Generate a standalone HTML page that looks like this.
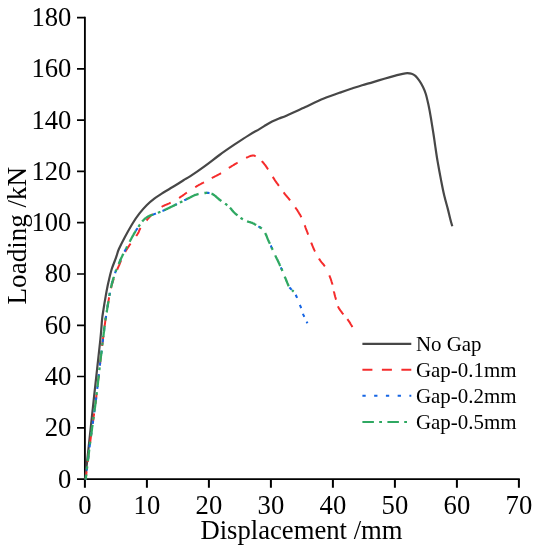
<!DOCTYPE html>
<html><head><meta charset="utf-8"><title>Loading vs Displacement</title>
<style>html,body{margin:0;padding:0;background:#fff}svg{display:block}text{font-family:"Liberation Serif","DejaVu Serif",serif;fill:#000}</style></head>
<body>
<svg width="542" height="550" viewBox="0 0 542 550">
<rect width="542" height="550" fill="#fff"/>
<g stroke="#000" stroke-width="1.85" fill="none" stroke-linecap="butt">
<path d="M84.9,16.8V480.0"/>
<path d="M84.0,479.1H519.8"/>
</g>
<path stroke="#000" stroke-width="1.7" fill="none" d="M77,479.1H84.9M77,427.8H84.9M77,376.5H84.9M77,325.3H84.9M77,274.0H84.9M77,222.7H84.9M77,171.4H84.9M77,120.2H84.9M77,68.9H84.9M77,17.6H84.9"/>
<path stroke="#000" stroke-width="2" fill="none" d="M84.9,479.1V487.7M146.9,479.1V487.7M208.9,479.1V487.7M270.9,479.1V487.7M332.9,479.1V487.7M394.9,479.1V487.7M456.9,479.1V487.7M518.9,479.1V487.7"/>
<text transform="translate(71.4,487.5) scale(0.952,1)" font-size="28.0" text-anchor="end">0</text>
<text transform="translate(71.4,436.2) scale(0.952,1)" font-size="28.0" text-anchor="end">20</text>
<text transform="translate(71.4,384.9) scale(0.952,1)" font-size="28.0" text-anchor="end">40</text>
<text transform="translate(71.4,333.7) scale(0.952,1)" font-size="28.0" text-anchor="end">60</text>
<text transform="translate(71.4,282.4) scale(0.952,1)" font-size="28.0" text-anchor="end">80</text>
<text transform="translate(71.4,231.1) scale(0.952,1)" font-size="28.0" text-anchor="end">100</text>
<text transform="translate(71.4,179.8) scale(0.952,1)" font-size="28.0" text-anchor="end">120</text>
<text transform="translate(71.4,128.6) scale(0.952,1)" font-size="28.0" text-anchor="end">140</text>
<text transform="translate(71.4,77.3) scale(0.952,1)" font-size="28.0" text-anchor="end">160</text>
<text transform="translate(71.4,26.0) scale(0.952,1)" font-size="28.0" text-anchor="end">180</text>
<text transform="translate(84.9,513.6) scale(0.952,1)" font-size="28.0" text-anchor="middle">0</text>
<text transform="translate(146.9,513.6) scale(0.952,1)" font-size="28.0" text-anchor="middle">10</text>
<text transform="translate(208.9,513.6) scale(0.952,1)" font-size="28.0" text-anchor="middle">20</text>
<text transform="translate(270.9,513.6) scale(0.952,1)" font-size="28.0" text-anchor="middle">30</text>
<text transform="translate(332.9,513.6) scale(0.952,1)" font-size="28.0" text-anchor="middle">40</text>
<text transform="translate(394.9,513.6) scale(0.952,1)" font-size="28.0" text-anchor="middle">50</text>
<text transform="translate(456.9,513.6) scale(0.952,1)" font-size="28.0" text-anchor="middle">60</text>
<text transform="translate(518.9,513.6) scale(0.952,1)" font-size="28.0" text-anchor="middle">70</text>
<text transform="translate(301.5,539.0) scale(0.956,1)" font-size="27.9" text-anchor="middle">Displacement /mm</text>
<text transform="translate(25.9,235.7) rotate(-90) scale(0.980,1)" font-size="27.6" text-anchor="middle">Loading /kN</text>
<g fill="none" stroke-width="2.1" stroke-linejoin="round">
<path stroke="#474747" stroke-width="2.2" d="M85.2,479.4C86.6,466.2 91.2,423.2 93.7,400.0C96.2,376.8 98.9,353.3 100.3,340.0C101.7,326.7 101.5,325.1 102.0,320.0C102.5,314.9 102.9,313.4 103.5,309.4C104.1,305.4 104.9,300.5 105.7,296.1C106.5,291.7 107.3,287.2 108.3,282.8C109.3,278.4 110.3,273.7 111.6,269.5C112.9,265.3 114.8,261.1 116.0,257.7C117.2,254.3 117.4,252.4 118.9,249.0C120.4,245.6 122.6,241.3 124.8,237.2C127.0,233.1 129.7,228.2 132.1,224.2C134.5,220.2 137.0,216.6 139.5,213.4C142.0,210.2 144.4,207.5 146.9,205.0C149.4,202.5 151.8,200.5 154.3,198.6C156.8,196.7 159.2,195.2 161.7,193.6C164.1,192.0 166.6,190.7 169.0,189.2C171.4,187.7 173.9,186.3 176.4,184.8C178.9,183.3 181.5,181.4 183.8,180.0C186.1,178.6 186.5,178.7 190.0,176.4C193.5,174.1 199.9,169.7 204.8,166.1C209.7,162.5 214.6,158.6 219.5,155.0C224.4,151.4 229.4,148.0 234.3,144.7C239.2,141.4 244.8,137.7 249.0,135.1C253.2,132.5 256.6,130.8 259.4,129.1C262.2,127.4 263.9,126.3 266.0,125.0C268.1,123.7 269.9,122.6 272.1,121.5C274.3,120.4 276.5,119.5 279.0,118.5C281.5,117.5 282.5,117.3 286.9,115.4C291.3,113.5 299.2,109.7 305.4,106.9C311.5,104.1 318.0,101.0 323.8,98.6C329.6,96.2 335.4,94.2 340.0,92.6C344.6,90.9 347.4,89.9 351.1,88.7C354.8,87.5 358.4,86.3 362.1,85.2C365.8,84.1 369.5,83.2 373.2,82.1C376.9,81.0 380.6,79.8 384.3,78.7C388.0,77.6 392.3,76.4 395.4,75.6C398.5,74.8 400.7,74.2 402.7,73.8C404.7,73.4 405.8,73.2 407.3,73.2C408.8,73.2 410.2,73.2 411.6,73.7C413.0,74.2 414.1,74.8 415.4,75.9C416.7,77.1 418.0,78.8 419.3,80.6C420.6,82.4 421.9,84.8 423.0,87.0C424.1,89.2 424.9,91.1 425.8,94.0C426.7,96.9 427.5,100.5 428.4,104.6C429.3,108.7 430.2,113.7 431.0,118.5C431.8,123.3 432.7,129.1 433.4,133.5C434.1,137.9 434.4,140.4 435.1,145.1C435.8,149.8 436.6,155.7 437.6,161.4C438.6,167.1 439.8,173.7 440.9,179.4C442.0,185.1 443.1,190.9 444.3,195.8C445.5,200.7 446.8,205.1 447.8,208.9C448.8,212.7 449.4,215.8 450.2,218.7C450.9,221.6 451.9,224.9 452.3,226.2"/>
<path stroke="#F52C2C" stroke-width="2" stroke-dasharray="8.11 9.50 10.00 9.50 10.00 9.50 10.00 9.50 10.00 9.50 10.00 9.50 10.00 9.50 10.00 9.50 10.00 9.50 10.00 9.50 10.00 9.50 10.00 9.50 10.00 9.50 9.20 9.52 9.12 11.38 10.00 9.57 9.57 9.91 10.05 8.91 10.38 9.43 10.33 9.77 10.24 7.72 10.49 8.79 10.89 8.01 10.36 8.82 11.44 8.81 9.86 8.66 9.55 8.30 9.77 10.08 9.72 6.68 8.81 6.94 9.76 6.12 9.56 50.00" d="M85.7,479.4L85.7,479.0L85.8,478.5L85.9,478.1L85.9,477.6L86.0,477.0L86.0,476.5L86.1,475.9L86.2,475.3L86.3,474.6L86.3,474.0L86.4,473.3L86.5,472.6L86.6,471.9L86.7,471.1L86.8,470.4L86.8,469.6L86.9,468.8L87.0,468.0L87.1,467.2L87.2,466.3L87.3,465.5L87.4,464.6L87.5,463.7L87.6,462.9L87.7,462.0L87.8,461.1L88.0,460.1L88.1,459.2L88.2,458.3L88.3,457.4L88.4,456.4L88.5,455.5L88.6,454.5L88.7,453.6L88.9,452.7L89.0,451.7L89.1,450.8L89.2,449.8L89.3,448.9L89.4,448.0L89.6,447.0L89.7,446.1L89.8,445.2L89.9,444.3L90.0,443.6L90.1,442.9L90.2,442.1L90.3,441.4L90.4,440.6L90.5,439.9L90.6,439.1L90.7,438.3L90.8,437.5L90.9,436.8L91.0,436.0L91.1,435.2L91.2,434.4L91.3,433.6L91.4,432.8L91.6,431.9L91.7,431.1L91.8,430.3L91.9,429.5L92.0,428.7L92.1,427.8L92.2,427.0L92.4,426.2L92.5,425.3L92.6,424.5L92.7,423.7L92.8,422.8L92.9,422.0L93.1,421.1L93.2,420.3L93.3,419.5L93.4,418.6L93.5,417.8L93.6,417.0L93.7,416.1L93.9,415.3L94.0,414.5L94.1,413.6L94.2,412.8L94.3,412.0L94.4,411.2L94.5,410.4L94.6,409.6L94.7,408.8L94.9,408.0L95.0,407.2L95.1,406.4L95.2,405.6L95.3,404.9L95.4,404.1L95.5,403.3L95.6,402.6L95.7,401.8L95.8,401.1L95.9,400.4L96.0,399.6L96.1,398.7L96.2,397.8L96.3,396.9L96.4,396.0L96.5,395.1L96.6,394.3L96.7,393.4L96.8,392.5L96.9,391.7L97.0,390.8L97.1,390.0L97.2,389.1L97.3,388.3L97.4,387.5L97.5,386.6L97.6,385.8L97.7,385.0L97.8,384.2L97.9,383.4L98.0,382.6L98.0,381.8L98.1,381.0L98.2,380.2L98.3,379.4L98.4,378.6L98.5,377.8L98.6,377.0L98.7,376.2L98.7,375.5L98.8,374.7L98.9,373.9L99.0,373.2L99.1,372.4L99.2,371.7L99.2,370.9L99.3,370.2L99.4,369.4L99.5,368.7L99.6,367.9L99.7,367.2L99.7,366.5L99.8,365.7L99.9,365.0L100.0,364.3L100.1,363.4L100.2,362.5L100.3,361.6L100.4,360.7L100.5,359.8L100.6,358.9L100.7,358.0L100.8,357.2L100.9,356.3L101.1,355.4L101.2,354.5L101.3,353.7L101.4,352.8L101.5,352.0L101.6,351.1L101.7,350.3L101.8,349.5L101.9,348.7L102.0,347.8L102.1,347.0L102.2,346.2L102.2,345.5L102.3,344.7L102.4,343.9L102.5,343.2L102.6,342.4L102.7,341.7L102.8,341.0L102.9,340.3L103.0,339.6L103.0,338.9L103.1,338.2L103.2,337.6L103.3,336.9L103.4,336.3L103.5,335.4L103.6,334.3L103.7,333.3L103.8,332.4L104.0,331.5L104.1,330.6L104.2,329.8L104.2,329.0L104.3,328.3L104.4,327.6L104.5,326.9L104.6,326.2L104.7,325.5L104.8,324.8L104.9,324.1L105.0,323.4L105.1,322.6L105.2,321.8L105.3,321.0L105.4,320.2L105.5,319.4L105.6,318.7L105.8,317.9L105.9,317.1L106.0,316.2L106.1,315.4L106.3,314.6L106.4,313.8L106.5,313.0L106.7,312.1L106.8,311.3L106.9,310.5L107.1,309.7L107.2,308.9L107.3,308.1L107.4,307.3L107.6,306.5L107.7,305.7L107.8,305.0L108.0,304.2L108.1,303.3L108.3,302.5L108.4,301.7L108.5,300.8L108.7,300.0L108.8,299.2L108.9,298.4L109.1,297.6L109.2,296.8L109.3,296.0L109.5,295.2L109.6,294.4L109.8,293.7L109.9,292.9L110.1,292.1L110.2,291.4L110.4,290.6L110.6,289.8L110.8,289.0L111.0,288.2L111.2,287.4L111.4,286.6L111.6,285.8L111.8,285.0L112.0,284.2L112.3,283.4L112.5,282.7L112.7,281.9L112.9,281.1L113.2,280.4L113.4,279.6L113.7,278.9L113.9,278.1L114.2,277.4L114.4,276.6L114.7,275.8L115.0,275.0L115.3,274.3L115.6,273.5L115.9,272.7L116.2,272.0L116.5,271.2L116.9,270.5L117.2,269.7L117.5,269.0L117.8,268.2L118.1,267.5L118.4,266.8L118.7,266.1L119.1,265.4L119.4,264.6L119.7,263.8L120.0,263.0L120.3,262.3L120.6,261.5L120.9,260.8L121.2,260.0L121.6,259.3L121.9,258.6L122.2,257.8L122.5,257.1L122.9,256.4L123.2,255.6L123.6,254.9L124.0,254.1L124.4,253.4L124.8,252.7L125.2,252.0L125.6,251.3L126.0,250.6L126.4,249.9L126.9,249.2L127.3,248.5L127.8,247.8L128.2,247.1L128.7,246.4L129.1,245.7L129.6,245.0L130.1,244.3L130.5,243.7L131.0,243.0L131.5,242.3L132.0,241.6L132.5,240.9L133.1,240.2L133.6,239.5L134.1,238.8L134.6,238.1L135.1,237.4L135.6,236.7L136.1,236.1L136.5,235.5L137.0,234.9L137.4,234.3L137.7,233.8L138.3,232.9L138.7,232.1L138.9,231.4L139.2,230.8L139.4,230.2L139.7,229.5L140.1,228.7L140.6,228.0L141.0,227.4L141.4,226.8L141.9,226.2L142.4,225.5L143.0,224.8L143.5,224.1L144.1,223.4L144.6,222.7L145.2,222.1L145.7,221.4L146.2,220.8L146.7,220.3L147.2,219.6L147.9,218.9L148.4,218.2L149.0,217.6L149.5,217.0L150.1,216.5L150.6,215.9L151.2,215.3L151.8,214.7L152.4,214.2L153.0,213.6L153.6,213.0L154.2,212.4L154.8,211.9L155.4,211.3L156.1,210.8L156.7,210.2L157.3,209.7L158.0,209.2L158.7,208.7L159.3,208.3L160.0,207.8L160.7,207.4L161.4,207.0L162.2,206.5L162.9,206.1L163.6,205.8L164.3,205.5L165.0,205.2L165.7,204.9L166.4,204.6L167.2,204.3L168.0,203.9L168.8,203.6L169.6,203.2L170.3,202.8L171.0,202.5L171.7,202.1L172.4,201.7L173.1,201.3L173.9,200.9L174.6,200.5L175.3,200.1L176.1,199.7L176.8,199.2L177.5,198.8L178.2,198.4L178.9,198.0L179.6,197.6L180.3,197.1L181.0,196.7L181.6,196.2L182.3,195.8L182.9,195.4L183.5,194.9L184.2,194.5L184.8,194.0L185.5,193.5L186.2,193.0L186.9,192.6L187.5,192.2L188.2,191.7L188.9,191.3L189.6,190.8L190.3,190.4L191.0,189.9L191.7,189.4L192.4,189.0L193.1,188.5L193.8,188.1L194.5,187.6L195.1,187.2L195.8,186.8L196.5,186.4L197.3,185.9L198.0,185.5L198.7,185.1L199.4,184.7L200.1,184.4L200.8,184.0L201.5,183.6L202.2,183.2L202.9,182.9L203.6,182.5L204.4,182.1L205.1,181.7L205.8,181.3L206.4,181.0L207.1,180.6L207.8,180.2L208.5,179.8L209.2,179.4L209.9,179.1L210.6,178.7L211.4,178.3L212.1,177.9L212.8,177.5L213.5,177.2L214.2,176.8L214.9,176.4L215.6,176.1L216.4,175.7L217.1,175.3L217.8,175.0L218.5,174.6L219.3,174.2L220.0,173.8L220.7,173.4L221.4,173.0L222.0,172.6L222.7,172.1L223.4,171.7L224.1,171.2L224.7,170.8L225.4,170.3L226.0,169.9L226.7,169.4L227.4,168.9L228.1,168.5L228.7,168.0L229.4,167.6L230.1,167.2L230.8,166.8L231.4,166.3L232.1,165.9L232.8,165.5L233.5,165.1L234.2,164.6L234.9,164.2L235.6,163.8L236.3,163.4L237.0,163.0L237.7,162.6L238.4,162.2L239.1,161.8L239.8,161.3L240.6,160.9L241.3,160.5L242.0,160.1L242.8,159.6L243.5,159.2L244.2,158.8L244.9,158.5L245.6,158.1L246.2,157.8L246.8,157.5L247.8,157.1L248.7,156.7L249.5,156.3L250.3,156.1L251.1,155.8L251.8,155.7L252.4,155.5L253.2,155.4L254.0,155.5L254.7,155.8L255.7,156.5L256.2,156.8L256.7,157.2L257.3,157.6L258.0,158.1L258.6,158.5L259.3,159.1L260.0,159.6L260.7,160.2L261.4,160.8L262.0,161.4L262.6,162.0L263.1,162.5L263.6,163.1L264.0,163.7L264.5,164.3L265.0,164.9L265.5,165.5L265.9,166.2L266.4,166.9L266.9,167.6L267.4,168.3L267.9,169.1L268.4,169.8L268.8,170.4L269.2,171.0L269.6,171.7L270.0,172.3L270.4,173.0L270.8,173.7L271.3,174.3L271.7,175.1L272.1,175.8L272.5,176.5L273.0,177.2L273.4,177.9L273.9,178.6L274.4,179.4L274.8,180.1L275.3,180.8L275.7,181.4L276.2,182.1L276.7,182.8L277.2,183.5L277.7,184.2L278.2,184.9L278.7,185.6L279.2,186.3L279.7,187.1L280.2,187.8L280.7,188.5L281.2,189.1L281.7,189.8L282.2,190.4L282.7,191.1L283.1,191.7L283.5,192.2L283.9,192.7L284.4,193.5L285.1,194.3L285.6,195.0L286.2,195.6L286.6,196.2L287.1,196.7L287.5,197.2L288.0,197.7L288.5,198.3L289.0,199.0L289.5,199.6L289.9,200.2L290.4,200.8L290.9,201.4L291.4,202.0L291.9,202.7L292.4,203.3L293.0,204.0L293.5,204.7L294.0,205.5L294.5,206.2L295.0,206.9L295.4,207.5L295.8,208.1L296.3,208.8L296.7,209.4L297.2,210.1L297.6,210.8L298.0,211.5L298.5,212.2L298.9,212.9L299.3,213.6L299.8,214.3L300.2,215.1L300.6,215.8L301.0,216.6L301.4,217.3L301.7,218.0L302.0,218.7L302.3,219.4L302.6,220.1L302.9,220.9L303.2,221.6L303.5,222.3L303.8,223.1L304.1,223.8L304.4,224.6L304.7,225.3L305.0,226.1L305.3,226.9L305.6,227.8L305.9,228.6L306.2,229.5L306.5,230.2L306.8,230.9L307.1,231.7L307.4,232.4L307.6,233.2L307.9,233.9L308.2,234.7L308.5,235.5L308.8,236.3L309.1,237.1L309.4,237.9L309.7,238.7L310.0,239.6L310.3,240.4L310.6,241.2L310.9,241.9L311.2,242.7L311.5,243.5L311.8,244.2L312.1,245.0L312.4,245.7L312.7,246.4L313.0,247.1L313.4,248.0L313.7,248.8L314.1,249.6L314.5,250.4L314.9,251.2L315.3,251.9L315.7,252.7L316.0,253.4L316.4,254.1L316.8,254.8L317.2,255.5L317.5,256.2L317.9,256.8L318.3,257.5L318.7,258.1L319.0,258.7L319.5,259.4L320.0,260.2L320.5,260.9L321.1,261.6L321.6,262.3L322.1,262.9L322.6,263.5L323.1,264.0L323.6,264.6L324.1,265.3L324.5,265.9L325.0,266.6L325.4,267.3L325.8,268.0L326.2,268.7L326.6,269.5L327.0,270.2L327.4,271.0L327.7,271.7L328.1,272.5L328.4,273.2L328.8,274.0L329.1,274.8L329.4,275.5L329.7,276.3L330.0,277.1L330.3,277.9L330.6,278.7L330.9,279.5L331.1,280.2L331.4,281.0L331.6,281.8L331.9,282.6L332.1,283.3L332.3,284.0L332.5,284.8L332.7,285.7L332.9,286.5L333.1,287.3L333.2,288.1L333.3,288.9L333.5,289.7L333.6,290.4L333.8,291.3L334.0,292.1L334.2,292.8L334.4,293.6L334.6,294.4L334.8,295.2L335.0,296.0L335.2,296.8L335.5,297.6L335.7,298.4L335.9,299.2L336.1,299.9L336.3,300.7L336.5,301.5L336.7,302.3L336.9,303.0L337.1,303.8L337.3,304.5L337.5,305.3L337.8,306.1L338.1,306.8L338.5,307.5L338.9,308.2L339.3,308.9L339.8,309.6L340.3,310.3L340.8,311.0L341.3,311.7L341.8,312.4L342.3,313.1L342.8,313.7L343.3,314.3L343.8,315.0L344.3,315.6L344.8,316.2L345.3,316.8L345.8,317.3L346.3,317.9L346.8,318.4L347.4,319.1L347.9,319.8L348.3,320.4L348.8,321.1L349.3,321.8L349.8,322.6L350.3,323.4L350.7,324.2L351.2,325.0L351.7,325.7L352.1,326.4L352.4,326.9L352.7,327.4L352.8,327.6"/>
<path stroke="#1565E4" stroke-dasharray="0.53 8.45 3.30 8.45 3.30 8.45 3.30 8.45 3.30 8.45 3.30 8.45 3.30 8.45 3.30 8.45 3.30 8.45 3.30 8.45 3.30 8.45 3.30 8.45 3.30 8.45 3.30 8.45 3.30 8.45 3.30 8.45 3.30 8.45 3.30 8.45 3.30 8.45 3.30 8.45 3.30 20.37 3.30 20.95 3.30 6.99 3.30 9.49 3.30 8.21 3.30 20.19 3.30 59.95 3.30 20.16 3.30 20.87 3.30 18.48 3.30 6.53 3.30 7.69 3.30 6.12 3.30 5.29 1.87 50.00" d="M85.7,479.4L85.7,479.0L85.8,478.5L85.9,478.1L85.9,477.6L86.0,477.0L86.0,476.5L86.1,475.9L86.2,475.3L86.3,474.6L86.3,474.0L86.4,473.3L86.5,472.6L86.6,471.9L86.7,471.1L86.8,470.4L86.8,469.6L86.9,468.8L87.0,468.0L87.1,467.2L87.2,466.3L87.3,465.5L87.4,464.6L87.5,463.7L87.6,462.9L87.7,462.0L87.8,461.1L88.0,460.1L88.1,459.2L88.2,458.3L88.3,457.4L88.4,456.4L88.5,455.5L88.6,454.5L88.7,453.6L88.9,452.7L89.0,451.7L89.1,450.8L89.2,449.8L89.3,448.9L89.4,448.0L89.6,447.0L89.7,446.1L89.8,445.2L89.9,444.3L90.0,443.6L90.1,442.9L90.2,442.1L90.3,441.4L90.4,440.6L90.5,439.9L90.6,439.1L90.7,438.3L90.8,437.5L90.9,436.8L91.0,436.0L91.1,435.2L91.2,434.4L91.3,433.6L91.4,432.8L91.6,431.9L91.7,431.1L91.8,430.3L91.9,429.5L92.0,428.7L92.1,427.8L92.2,427.0L92.4,426.2L92.5,425.3L92.6,424.5L92.7,423.7L92.8,422.8L92.9,422.0L93.1,421.1L93.2,420.3L93.3,419.5L93.4,418.6L93.5,417.8L93.6,417.0L93.7,416.1L93.9,415.3L94.0,414.5L94.1,413.6L94.2,412.8L94.3,412.0L94.4,411.2L94.5,410.4L94.6,409.6L94.7,408.8L94.9,408.0L95.0,407.2L95.1,406.4L95.2,405.6L95.3,404.9L95.4,404.1L95.5,403.3L95.6,402.6L95.7,401.8L95.8,401.1L95.9,400.4L96.0,399.6L96.1,398.7L96.2,397.8L96.3,396.9L96.4,396.0L96.5,395.1L96.6,394.3L96.7,393.4L96.8,392.5L96.9,391.7L97.0,390.8L97.1,390.0L97.2,389.1L97.3,388.3L97.4,387.5L97.5,386.6L97.6,385.8L97.7,385.0L97.8,384.2L97.9,383.4L98.0,382.6L98.0,381.8L98.1,381.0L98.2,380.2L98.3,379.4L98.4,378.6L98.5,377.8L98.6,377.0L98.7,376.2L98.7,375.5L98.8,374.7L98.9,373.9L99.0,373.2L99.1,372.4L99.2,371.7L99.2,370.9L99.3,370.2L99.4,369.4L99.5,368.7L99.6,367.9L99.7,367.2L99.7,366.5L99.8,365.7L99.9,365.0L100.0,364.3L100.1,363.4L100.2,362.5L100.3,361.6L100.4,360.7L100.5,359.8L100.6,358.9L100.7,358.0L100.8,357.2L100.9,356.3L101.1,355.4L101.2,354.5L101.3,353.7L101.4,352.8L101.5,352.0L101.6,351.1L101.7,350.3L101.8,349.5L101.9,348.7L102.0,347.8L102.1,347.0L102.2,346.2L102.2,345.5L102.3,344.7L102.4,343.9L102.5,343.2L102.6,342.4L102.7,341.7L102.8,341.0L102.9,340.3L103.0,339.6L103.0,338.9L103.1,338.2L103.2,337.6L103.3,336.9L103.4,336.3L103.5,335.4L103.6,334.3L103.7,333.3L103.8,332.4L104.0,331.5L104.1,330.6L104.2,329.8L104.2,329.0L104.3,328.3L104.4,327.6L104.5,326.9L104.6,326.2L104.7,325.5L104.8,324.8L104.9,324.1L105.0,323.4L105.1,322.6L105.2,321.8L105.3,321.0L105.4,320.2L105.5,319.4L105.6,318.7L105.8,317.9L105.9,317.1L106.0,316.3L106.1,315.4L106.3,314.6L106.4,313.8L106.5,313.0L106.7,312.2L106.8,311.4L106.9,310.5L107.1,309.7L107.2,308.9L107.3,308.1L107.4,307.3L107.6,306.5L107.7,305.8L107.8,305.0L108.0,304.2L108.1,303.3L108.2,302.5L108.4,301.7L108.5,300.9L108.6,300.1L108.8,299.2L108.9,298.4L109.0,297.6L109.2,296.8L109.3,296.0L109.4,295.3L109.6,294.5L109.7,293.7L109.9,292.9L110.0,292.1L110.2,291.3L110.3,290.6L110.5,289.8L110.7,289.0L110.9,288.2L111.0,287.4L111.2,286.5L111.4,285.7L111.6,284.9L111.8,284.1L112.0,283.3L112.2,282.5L112.4,281.7L112.6,281.0L112.9,280.2L113.1,279.4L113.3,278.6L113.5,277.9L113.8,277.1L114.0,276.4L114.2,275.6L114.5,274.8L114.8,274.0L115.1,273.2L115.3,272.4L115.6,271.6L115.9,270.8L116.2,270.1L116.5,269.3L116.8,268.5L117.1,267.8L117.4,267.1L117.7,266.4L118.0,265.7L118.3,265.0L118.6,264.3L118.9,263.6L119.2,262.7L119.6,261.9L119.9,261.2L120.2,260.5L120.5,259.8L120.8,259.1L121.1,258.4L121.4,257.7L121.8,257.0L122.1,256.3L122.5,255.5L122.8,254.8L123.2,254.1L123.5,253.5L123.8,252.8L124.2,252.1L124.6,251.4L124.9,250.7L125.3,250.0L125.7,249.2L126.1,248.5L126.5,247.8L126.9,247.0L127.3,246.2L127.7,245.5L128.0,244.8L128.4,244.1L128.8,243.4L129.1,242.7L129.5,242.0L129.9,241.2L130.3,240.5L130.7,239.7L131.1,239.0L131.5,238.2L131.9,237.5L132.3,236.8L132.7,236.1L133.1,235.4L133.5,234.7L133.8,234.1L134.2,233.4L134.7,232.6L135.2,231.8L135.6,231.1L136.1,230.3L136.5,229.6L137.0,228.9L137.4,228.3L137.8,227.6L138.3,227.0L138.7,226.4L139.1,225.8L139.5,225.2L140.1,224.4L140.6,223.7L141.1,223.0L141.6,222.3L142.1,221.7L142.6,221.1L143.1,220.5L143.6,220.0L144.1,219.5L144.7,218.9L145.4,218.3L146.0,217.9L146.7,217.4L147.3,217.0L148.0,216.6L148.7,216.2L149.4,215.9L150.1,215.6L150.8,215.3L151.6,215.0L152.4,214.8L153.3,214.5L154.3,214.1L154.9,213.9L155.6,213.6L156.3,213.3L157.0,213.1L157.8,212.8L158.6,212.5L159.3,212.2L160.2,211.9L161.0,211.6L161.8,211.2L162.7,210.9L163.5,210.5L164.2,210.2L164.9,209.9L165.6,209.6L166.3,209.2L167.1,208.9L167.8,208.5L168.6,208.2L169.3,207.8L170.1,207.4L170.8,207.0L171.6,206.7L172.4,206.3L173.1,205.9L173.9,205.6L174.6,205.2L175.3,204.8L176.1,204.5L176.8,204.1L177.6,203.7L178.3,203.3L179.1,203.0L179.8,202.6L180.6,202.2L181.3,201.8L182.1,201.5L182.8,201.1L183.5,200.7L184.2,200.4L184.9,200.0L185.6,199.7L186.4,199.3L187.2,198.9L188.0,198.5L188.8,198.1L189.6,197.7L190.4,197.3L191.1,196.9L191.9,196.5L192.6,196.1L193.3,195.8L193.9,195.5L194.6,195.2L195.4,194.9L196.4,194.6L197.3,194.3L198.1,194.1L198.9,193.9L199.6,193.8L200.3,193.6L201.0,193.5L202.0,193.3L202.8,193.2L203.6,193.1L204.5,193.0L205.3,193.0L206.1,192.9L206.9,192.9L207.8,192.9L208.6,192.9L209.4,193.1L210.2,193.2L211.0,193.5L211.7,193.7L212.5,194.1L213.2,194.5L213.9,194.9L214.5,195.4L215.2,195.9L215.8,196.5L216.5,197.0L217.1,197.6L217.7,198.1L218.3,198.6L218.9,199.2L219.6,199.7L220.3,200.3L221.0,200.8L221.6,201.3L222.3,201.7L223.0,202.2L223.8,202.7L224.5,203.2L225.2,203.7L225.9,204.1L226.5,204.6L227.2,205.2L227.9,205.7L228.5,206.3L229.0,206.8L229.6,207.4L230.1,207.9L230.7,208.5L231.2,209.1L231.7,209.7L232.3,210.4L232.8,211.0L233.3,211.6L233.9,212.2L234.4,212.7L235.0,213.3L235.6,213.8L236.2,214.3L236.9,214.9L237.5,215.4L238.1,215.9L238.7,216.4L239.3,216.9L239.9,217.4L240.6,217.9L241.3,218.3L242.0,218.8L242.7,219.2L243.4,219.6L244.2,220.0L245.1,220.4L245.9,220.7L246.7,221.1L247.4,221.4L248.1,221.7L249.0,222.0L249.8,222.2L250.6,222.4L251.3,222.6L252.1,222.8L252.8,223.2L253.5,223.5L254.3,223.9L255.1,224.4L255.8,224.8L256.5,225.2L257.3,225.6L258.1,226.1L258.8,226.6L259.5,227.0L260.1,227.4L260.9,227.9L261.6,228.3L262.2,228.7L262.8,229.4L263.2,230.0L263.7,230.6L264.2,231.4L264.6,232.1L265.1,232.9L265.5,233.7L265.9,234.5L266.2,235.3L266.6,236.1L266.9,236.9L267.2,237.7L267.5,238.4L267.8,239.2L268.1,239.9L268.4,240.5L268.6,241.1L268.9,241.7L269.4,242.6L269.9,243.8L270.2,244.3L270.4,244.9L270.7,245.6L271.1,246.3L271.4,247.0L271.7,247.8L272.1,248.6L272.5,249.4L272.9,250.2L273.2,251.0L273.6,251.9L274.0,252.7L274.4,253.5L274.7,254.2L275.1,255.0L275.4,255.7L275.8,256.5L276.1,257.2L276.5,258.0L276.8,258.7L277.2,259.4L277.5,260.1L277.9,260.8L278.2,261.6L278.6,262.3L278.9,263.0L279.3,263.7L279.6,264.5L279.9,265.2L280.3,266.0L280.6,266.7L280.9,267.4L281.2,268.2L281.6,269.0L281.9,269.7L282.2,270.5L282.5,271.3L282.9,272.1L283.2,272.9L283.5,273.7L283.8,274.4L284.1,275.2L284.4,275.9L284.7,276.6L285.0,277.3L285.3,278.0L285.7,278.9L286.0,279.7L286.3,280.5L286.6,281.3L287.0,282.1L287.3,282.9L287.6,283.6L287.9,284.3L288.2,285.0L288.5,285.7L288.8,286.3L289.2,286.9L289.7,287.7L290.3,288.3L290.9,289.0L291.5,289.5L292.1,290.0L292.7,290.6L293.3,291.1L293.8,291.6L294.3,292.3L294.7,292.9L295.1,293.6L295.4,294.2L295.8,294.9L296.1,295.8L296.6,296.8L296.9,297.4L297.1,298.0L297.4,298.7L297.7,299.5L298.1,300.3L298.4,301.1L298.7,301.9L299.0,302.7L299.4,303.5L299.7,304.3L300.0,305.1L300.3,305.9L300.6,306.6L300.9,307.4L301.2,308.2L301.4,309.1L301.7,309.8L302.0,310.6L302.2,311.4L302.5,312.1L302.7,312.9L303.0,313.6L303.2,314.4L303.5,315.1L303.9,315.9L304.2,316.7L304.6,317.5L305.0,318.3L305.4,319.1L305.8,320.0L306.2,320.8L306.6,321.5L306.9,322.2L307.2,322.9L307.5,323.4L307.7,323.8L307.7,323.8"/>
<path stroke="#2FA862" stroke-width="2.3" stroke-dasharray="4.92 5.30 2.80 5.40 11.50 5.30 2.80 5.40 11.50 5.30 2.80 5.40 11.50 5.30 2.80 5.40 11.50 5.30 2.80 5.40 11.50 5.30 2.80 5.40 11.50 5.30 2.80 5.40 11.50 5.30 2.80 5.40 11.50 5.30 2.80 5.40 11.50 5.30 2.80 5.40 12.36 4.92 2.80 3.73 13.03 5.20 2.80 4.25 13.56 3.70 2.80 4.39 13.50 5.92 2.80 4.44 12.35 4.55 2.80 3.56 10.84 3.90 2.80 4.65 9.84 3.79 2.80 5.79 11.70 3.96 2.80 6.08 11.67 2.73 2.80 6.05 10.46 5.12 2.18 50.00" d="M85.7,479.4L85.7,479.0L85.8,478.5L85.9,478.1L85.9,477.6L86.0,477.0L86.0,476.5L86.1,475.9L86.2,475.3L86.3,474.6L86.3,474.0L86.4,473.3L86.5,472.6L86.6,471.9L86.7,471.1L86.8,470.4L86.8,469.6L86.9,468.8L87.0,468.0L87.1,467.2L87.2,466.3L87.3,465.5L87.4,464.6L87.5,463.7L87.6,462.9L87.7,462.0L87.8,461.1L88.0,460.1L88.1,459.2L88.2,458.3L88.3,457.4L88.4,456.4L88.5,455.5L88.6,454.5L88.7,453.6L88.9,452.7L89.0,451.7L89.1,450.8L89.2,449.8L89.3,448.9L89.4,448.0L89.6,447.0L89.7,446.1L89.8,445.2L89.9,444.3L90.0,443.6L90.1,442.9L90.2,442.1L90.3,441.4L90.4,440.6L90.5,439.9L90.6,439.1L90.7,438.3L90.8,437.5L90.9,436.8L91.0,436.0L91.1,435.2L91.2,434.4L91.3,433.6L91.4,432.8L91.6,431.9L91.7,431.1L91.8,430.3L91.9,429.5L92.0,428.7L92.1,427.8L92.2,427.0L92.4,426.2L92.5,425.3L92.6,424.5L92.7,423.7L92.8,422.8L92.9,422.0L93.1,421.1L93.2,420.3L93.3,419.5L93.4,418.6L93.5,417.8L93.6,417.0L93.7,416.1L93.9,415.3L94.0,414.5L94.1,413.6L94.2,412.8L94.3,412.0L94.4,411.2L94.5,410.4L94.6,409.6L94.7,408.8L94.9,408.0L95.0,407.2L95.1,406.4L95.2,405.6L95.3,404.9L95.4,404.1L95.5,403.3L95.6,402.6L95.7,401.8L95.8,401.1L95.9,400.4L96.0,399.6L96.1,398.7L96.2,397.8L96.3,396.9L96.4,396.0L96.5,395.1L96.6,394.3L96.7,393.4L96.8,392.5L96.9,391.7L97.0,390.8L97.1,390.0L97.2,389.1L97.3,388.3L97.4,387.5L97.5,386.6L97.6,385.8L97.7,385.0L97.8,384.2L97.9,383.4L98.0,382.6L98.0,381.8L98.1,381.0L98.2,380.2L98.3,379.4L98.4,378.6L98.5,377.8L98.6,377.0L98.7,376.2L98.7,375.5L98.8,374.7L98.9,373.9L99.0,373.2L99.1,372.4L99.2,371.7L99.2,370.9L99.3,370.2L99.4,369.4L99.5,368.7L99.6,367.9L99.7,367.2L99.7,366.5L99.8,365.7L99.9,365.0L100.0,364.3L100.1,363.4L100.2,362.5L100.3,361.6L100.4,360.7L100.5,359.8L100.6,358.9L100.7,358.0L100.8,357.2L100.9,356.3L101.1,355.4L101.2,354.5L101.3,353.7L101.4,352.8L101.5,352.0L101.6,351.1L101.7,350.3L101.8,349.5L101.9,348.7L102.0,347.8L102.1,347.0L102.2,346.2L102.2,345.5L102.3,344.7L102.4,343.9L102.5,343.2L102.6,342.4L102.7,341.7L102.8,341.0L102.9,340.3L103.0,339.6L103.0,338.9L103.1,338.2L103.2,337.6L103.3,336.9L103.4,336.3L103.5,335.4L103.6,334.3L103.7,333.3L103.8,332.4L104.0,331.5L104.1,330.6L104.2,329.8L104.2,329.0L104.3,328.3L104.4,327.6L104.5,326.9L104.6,326.2L104.7,325.5L104.8,324.8L104.9,324.1L105.0,323.4L105.1,322.6L105.2,321.8L105.3,321.0L105.4,320.2L105.5,319.4L105.6,318.7L105.8,317.9L105.9,317.1L106.0,316.3L106.1,315.4L106.3,314.6L106.4,313.8L106.5,313.0L106.7,312.2L106.8,311.4L106.9,310.5L107.1,309.7L107.2,308.9L107.3,308.1L107.4,307.3L107.6,306.5L107.7,305.8L107.8,305.0L108.0,304.2L108.1,303.3L108.2,302.5L108.4,301.7L108.5,300.9L108.6,300.1L108.8,299.2L108.9,298.4L109.0,297.6L109.2,296.8L109.3,296.0L109.4,295.3L109.6,294.5L109.7,293.7L109.9,292.9L110.0,292.1L110.2,291.3L110.3,290.6L110.5,289.8L110.7,289.0L110.9,288.2L111.0,287.4L111.2,286.5L111.4,285.7L111.6,284.9L111.8,284.1L112.0,283.3L112.2,282.5L112.4,281.7L112.6,281.0L112.9,280.2L113.1,279.4L113.3,278.6L113.5,277.9L113.8,277.1L114.0,276.4L114.2,275.6L114.5,274.8L114.8,274.0L115.1,273.2L115.3,272.4L115.6,271.6L115.9,270.8L116.2,270.1L116.5,269.3L116.8,268.5L117.1,267.8L117.4,267.1L117.7,266.4L118.0,265.7L118.3,265.0L118.6,264.3L118.9,263.6L119.2,262.7L119.6,261.9L119.9,261.2L120.2,260.5L120.5,259.8L120.8,259.1L121.1,258.4L121.4,257.7L121.8,257.0L122.1,256.3L122.5,255.5L122.8,254.8L123.2,254.1L123.5,253.5L123.8,252.8L124.2,252.1L124.6,251.4L124.9,250.7L125.3,250.0L125.7,249.2L126.1,248.5L126.5,247.8L126.9,247.0L127.3,246.2L127.7,245.5L128.0,244.8L128.4,244.1L128.8,243.4L129.1,242.7L129.5,242.0L129.9,241.2L130.3,240.5L130.7,239.7L131.1,239.0L131.5,238.2L131.9,237.5L132.3,236.8L132.7,236.1L133.1,235.4L133.5,234.7L133.8,234.1L134.2,233.4L134.7,232.6L135.2,231.8L135.6,231.1L136.1,230.3L136.5,229.6L137.0,228.9L137.4,228.3L137.8,227.6L138.3,227.0L138.7,226.4L139.1,225.8L139.5,225.2L140.1,224.4L140.6,223.7L141.1,223.0L141.6,222.3L142.1,221.7L142.6,221.1L143.1,220.5L143.6,220.0L144.1,219.5L144.7,218.9L145.4,218.3L146.0,217.9L146.7,217.4L147.3,217.0L148.0,216.6L148.7,216.2L149.4,215.9L150.1,215.6L150.8,215.3L151.6,215.0L152.4,214.8L153.3,214.5L154.3,214.1L154.9,213.9L155.6,213.6L156.3,213.3L157.0,213.1L157.8,212.8L158.6,212.5L159.3,212.2L160.2,211.9L161.0,211.6L161.8,211.2L162.7,210.9L163.5,210.5L164.2,210.2L164.9,209.9L165.6,209.6L166.3,209.2L167.1,208.9L167.8,208.5L168.6,208.2L169.3,207.8L170.1,207.4L170.8,207.0L171.6,206.7L172.4,206.3L173.1,205.9L173.9,205.6L174.6,205.2L175.3,204.8L176.1,204.5L176.8,204.1L177.6,203.7L178.3,203.3L179.1,203.0L179.8,202.6L180.6,202.2L181.3,201.8L182.1,201.5L182.8,201.1L183.5,200.7L184.2,200.4L184.9,200.0L185.6,199.7L186.4,199.3L187.2,198.9L188.0,198.5L188.8,198.1L189.6,197.7L190.4,197.3L191.1,196.9L191.9,196.5L192.6,196.1L193.3,195.8L193.9,195.5L194.6,195.2L195.4,194.9L196.4,194.6L197.3,194.3L198.1,194.1L198.9,193.9L199.6,193.8L200.3,193.6L201.0,193.5L202.0,193.3L202.8,193.2L203.6,193.1L204.5,193.0L205.3,193.0L206.1,192.9L206.9,192.9L207.8,192.9L208.6,192.9L209.4,193.1L210.2,193.2L211.0,193.5L211.7,193.7L212.5,194.1L213.2,194.5L213.9,194.9L214.5,195.4L215.2,195.9L215.8,196.5L216.5,197.0L217.1,197.6L217.7,198.1L218.3,198.6L218.9,199.2L219.6,199.7L220.3,200.3L221.0,200.8L221.6,201.3L222.3,201.7L223.0,202.2L223.8,202.7L224.5,203.2L225.2,203.7L225.9,204.1L226.5,204.6L227.2,205.2L227.9,205.7L228.5,206.3L229.0,206.8L229.6,207.4L230.1,207.9L230.7,208.5L231.2,209.1L231.7,209.7L232.3,210.4L232.8,211.0L233.3,211.6L233.9,212.2L234.4,212.7L235.0,213.3L235.6,213.8L236.2,214.3L236.9,214.9L237.5,215.4L238.1,215.9L238.7,216.4L239.3,216.9L239.9,217.4L240.6,217.9L241.3,218.3L242.0,218.8L242.7,219.2L243.4,219.6L244.2,220.0L245.1,220.4L245.9,220.7L246.7,221.1L247.4,221.4L248.1,221.7L249.0,222.0L249.8,222.2L250.6,222.4L251.3,222.6L252.1,222.8L252.8,223.2L253.5,223.5L254.3,223.9L255.1,224.4L255.8,224.8L256.5,225.2L257.3,225.6L258.1,226.1L258.8,226.6L259.5,227.0L260.1,227.4L260.9,227.9L261.6,228.3L262.2,228.7L262.8,229.4L263.2,230.0L263.7,230.6L264.2,231.4L264.6,232.1L265.1,232.9L265.5,233.7L265.9,234.5L266.2,235.3L266.6,236.1L266.9,236.9L267.2,237.7L267.5,238.4L267.8,239.2L268.1,239.9L268.4,240.5L268.6,241.1L268.9,241.7L269.4,242.6L269.9,243.8L270.2,244.3L270.4,244.9L270.7,245.6L271.1,246.3L271.4,247.0L271.7,247.8L272.1,248.6L272.5,249.4L272.9,250.2L273.2,251.0L273.6,251.9L274.0,252.7L274.4,253.5L274.7,254.2L275.1,255.0L275.4,255.7L275.8,256.5L276.1,257.2L276.5,258.0L276.8,258.7L277.2,259.4L277.5,260.1L277.9,260.8L278.2,261.6L278.6,262.3L278.9,263.0L279.3,263.7L279.6,264.5L279.9,265.2L280.3,266.0L280.6,266.7L280.9,267.4L281.2,268.2L281.6,269.0L281.9,269.7L282.2,270.5L282.5,271.3L282.9,272.1L283.2,272.9L283.5,273.7L283.8,274.4L284.1,275.2L284.4,275.9L284.7,276.6L285.0,277.3L285.3,278.0L285.7,278.9L286.0,279.7L286.3,280.5L286.6,281.3L287.0,282.1L287.3,282.9L287.6,283.6L287.9,284.3L288.2,285.0L288.5,285.7L288.8,286.3L289.2,286.9L289.8,287.7L290.4,288.5L291.0,289.2L291.7,289.8L292.3,290.4L292.9,290.9L293.4,291.4L293.8,291.7L294.0,291.9"/>
<path stroke="#474747" d="M362.4,343.9H411.3"/>
<path stroke="#F52C2C" stroke-dasharray="10 9.5" d="M362.4,369.8H411.3"/>
<path stroke="#1565E4" stroke-dasharray="3.3 8.45" d="M362.4,395.8H411.3"/>
<path stroke="#2FA862" stroke-dasharray="11.5 5.3 2.8 5.4" d="M362.4,422.0H411.3"/>
</g>
<text transform="translate(415.9,351.1) scale(1.002,1)" font-size="20.9" text-anchor="start">No Gap</text>
<text transform="translate(415.9,377.0) scale(1.002,1)" font-size="20.9" text-anchor="start">Gap-0.1mm</text>
<text transform="translate(415.9,403.0) scale(1.002,1)" font-size="20.9" text-anchor="start">Gap-0.2mm</text>
<text transform="translate(415.9,429.2) scale(1.002,1)" font-size="20.9" text-anchor="start">Gap-0.5mm</text>
</svg>
</body></html>
